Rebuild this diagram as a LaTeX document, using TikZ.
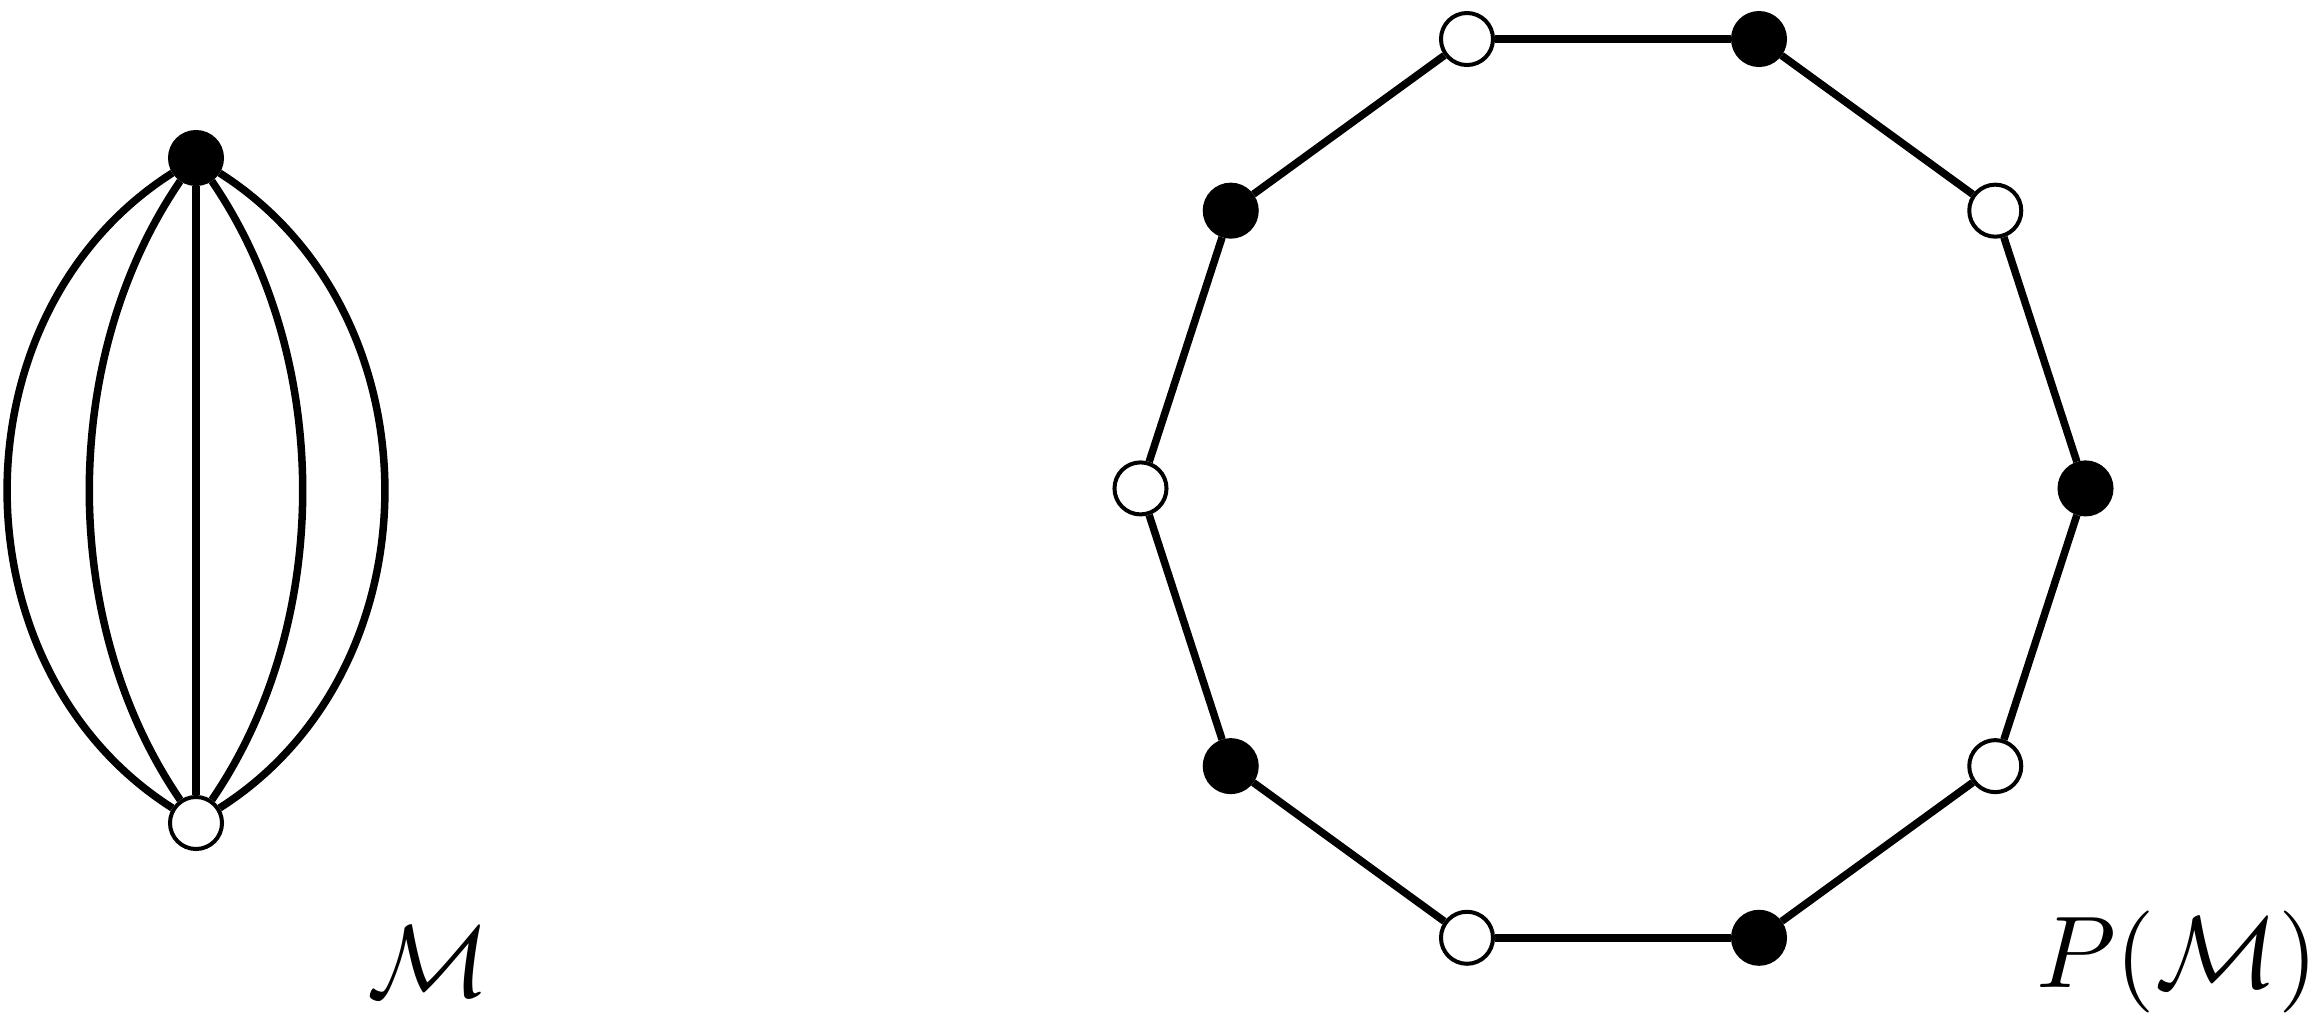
\documentclass[tikz,border=0pt]{standalone}
\begin{document}
\begin{tikzpicture}[x=0.01cm,y=-0.01cm,
  vtx/.style={circle,inner sep=0pt,minimum size=0.52cm,line width=0.04cm,draw=black},
  bvtx/.style={vtx,fill=black},
  wvtx/.style={vtx,fill=white},
  edge/.style={line width=0.075cm,black},
  lbl/.style={inner sep=0pt,scale=2.9}]
\useasboundingbox (0,0) rectangle (2317,1027);
% left graph
\node[bvtx] (t) at (196,158) {};
\node[wvtx] (b) at (196,823) {};
\draw[edge] (t) -- (b);
\draw[edge] (t) .. controls +(-244,155) and +(-244,-155) .. (b);
\draw[edge] (t) .. controls +(244,155) and +(244,-155) .. (b);
\draw[edge] (t) .. controls +(-137,200) and +(-137,-200) .. (b);
\draw[edge] (t) .. controls +(137,200) and +(137,-200) .. (b);
\node[lbl] (lm) at (429,962) {$\mathcal{M}$};
% decagon
\begin{scope}[shift={(1613,488.4)}]
\foreach \i in {0,2,4,6,8} {
  \node[bvtx] (v\i) at (\i*36:472.5) {};
}
\foreach \i in {1,3,5,7,9} {
  \node[wvtx] (v\i) at (\i*36:472.5) {};
}
\end{scope}
\foreach \i [evaluate=\i as \j using {int(mod(\i+1,10))}] in {0,...,9} {
  \draw[edge] (v\i) -- (v\j);
}
\node[lbl] (lp) at (2177,962) {$P(\mathcal{M})$};
\end{tikzpicture}
\end{document}
